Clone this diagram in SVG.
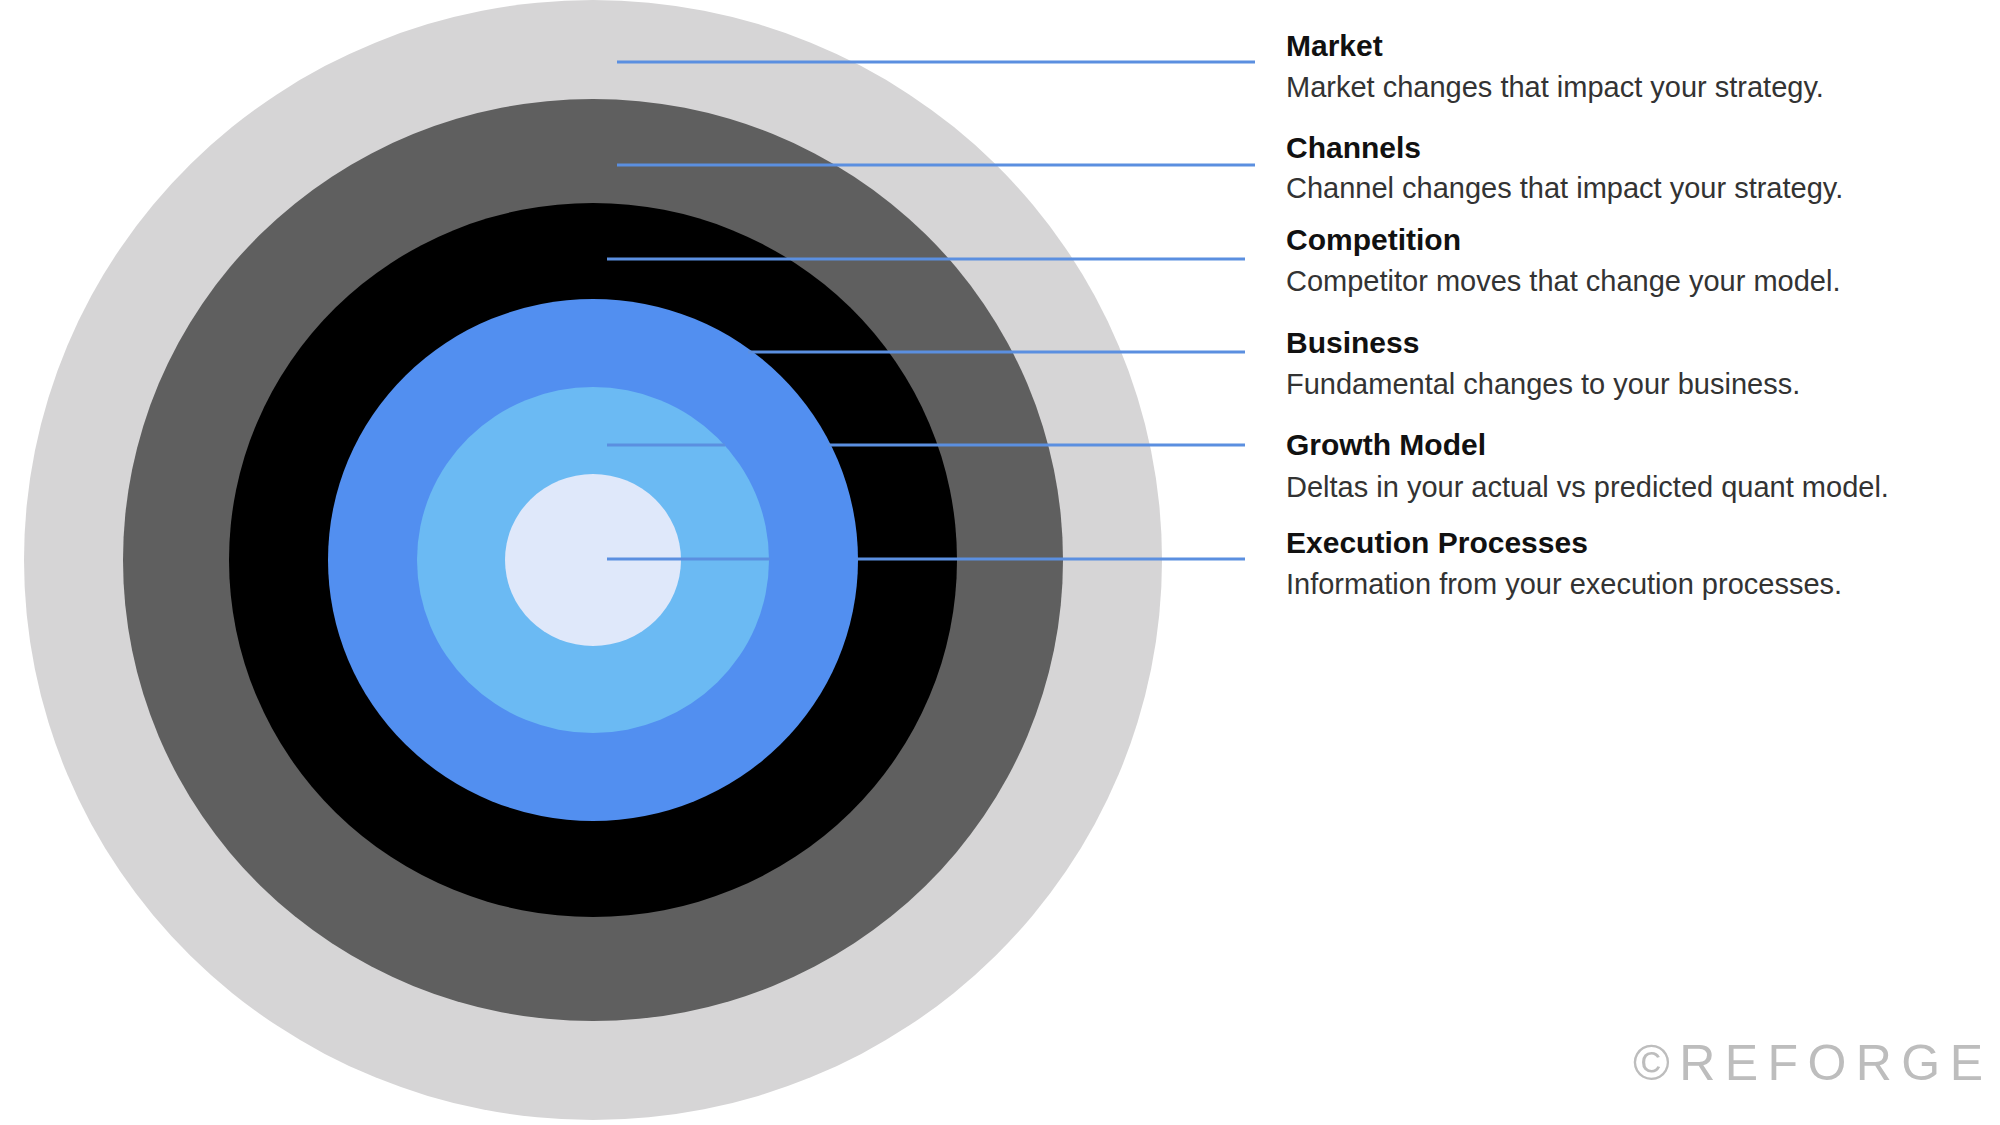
<svg xmlns="http://www.w3.org/2000/svg" width="2000" height="1125" viewBox="0 0 2000 1125">
<style>
.t{font-family:"Liberation Sans",Arial,sans-serif;font-weight:bold;font-size:30px;fill:#111}
.d{font-family:"Liberation Sans",Arial,sans-serif;font-size:29px;fill:#333}
.c line{stroke:#5b8fe0;stroke-width:3}
</style>
<rect width="2000" height="1125" fill="#fff"/>
<g id="rings">
<ellipse id="market" cx="593" cy="560" rx="569" ry="560" fill="#d6d5d6"/>
<ellipse id="channels" cx="593" cy="560" rx="470" ry="461" fill="#5f5f5f"/>
<ellipse id="competition" cx="593" cy="560" rx="364" ry="357" fill="#000"/>
<ellipse id="business" cx="593" cy="560" rx="265" ry="261" fill="#528ff0"/>
<ellipse id="growth" cx="593" cy="560" rx="176" ry="173" fill="#6bbaf3"/>
<ellipse id="execution" cx="593" cy="560" rx="88" ry="86" fill="#dfe8fa"/>
</g>
<g class="c" id="connectors">
<line x1="617" y1="62" x2="1255" y2="62"/>
<line x1="617" y1="165" x2="1255" y2="165"/>
<line x1="607" y1="259" x2="1245" y2="259"/>
<line x1="748" y1="352" x2="1245" y2="352"/>
<line x1="607" y1="445" x2="725" y2="445"/>
<line x1="828" y1="445" x2="1245" y2="445"/>
<line x1="607" y1="559" x2="770" y2="559"/>
<line x1="857" y1="559" x2="1245" y2="559"/>
</g>
<g id="l-market"><text class="t" x="1286" y="56">Market</text><text class="d" x="1286" y="97">Market changes that impact your strategy.</text></g>
<g id="l-channels"><text class="t" x="1286" y="158">Channels</text><text class="d" x="1286" y="198">Channel changes that impact your strategy.</text></g>
<g id="l-competition"><text class="t" x="1286" y="250">Competition</text><text class="d" x="1286" y="291">Competitor moves that change your model.</text></g>
<g id="l-business"><text class="t" x="1286" y="353">Business</text><text class="d" x="1286" y="394">Fundamental changes to your business.</text></g>
<g id="l-growth"><text class="t" x="1286" y="455">Growth Model</text><text class="d" x="1286" y="497">Deltas in your actual vs predicted quant model.</text></g>
<g id="l-execution"><text class="t" x="1286" y="553">Execution Processes</text><text class="d" x="1286" y="594">Information from your execution processes.</text></g>
<text x="1633" y="1080" font-family="Liberation Sans,Arial,sans-serif" font-size="50" fill="#bdbdbd" textLength="350" lengthAdjust="spacing">©REFORGE</text>
</svg>
